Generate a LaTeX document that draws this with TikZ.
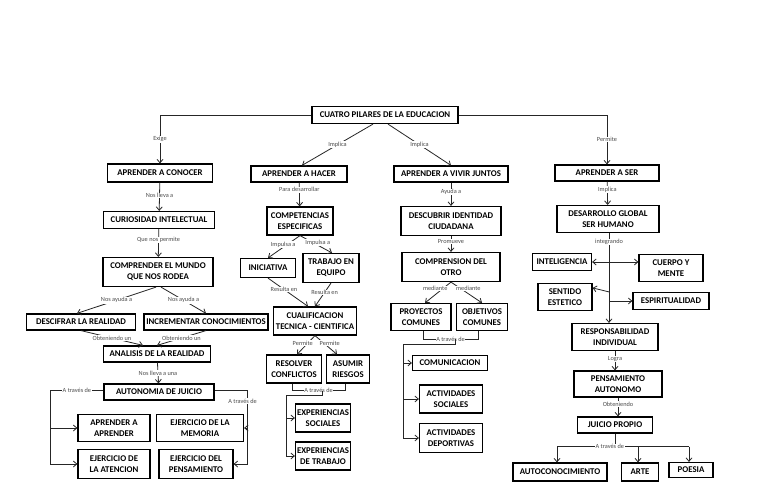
\documentclass[tikz,border=0pt]{standalone}
\usepackage{fontspec}
\setmainfont{Carlito}
\usetikzlibrary{arrows.meta}
\begin{document}
\begin{tikzpicture}[x=1pt,y=-1pt,
        caja/.style={draw, line width=1.2pt, align=center, inner sep=1pt, font=\fontsize{8.8}{11}\selectfont\bfseries},
        etiq/.style={fill=white, inner sep=.6pt, text=black!70, font=\fontsize{6.3}{7}\selectfont},
        linea/.style={line width=.8pt, black!85},
        flecha/.style={linea, -{Straight Barb[length=3.5pt,width=6pt]}}]
        \useasboundingbox[fill=white] (0,0) rectangle (768,503);
        \node[caja, minimum width=146pt, minimum height=17pt] (pilares) at (385,115) {CUATRO PILARES DE LA EDUCACION};
        % aprender a conocer
        \node[caja, minimum width=105pt, minimum height=18pt] (conocer) at (160,173) {APRENDER A CONOCER};
        \node[caja, minimum width=111pt, minimum height=17pt] (curiosidad) at (159,220) {CURIOSIDAD INTELECTUAL};
        \node[caja, minimum width=110pt, minimum height=29pt] (comprender) at (158,272) {COMPRENDER EL MUNDO\\QUE NOS RODEA};
        \node[caja, minimum width=109pt, minimum height=16pt] (descifrar) at (81,322) {DESCIFRAR LA REALIDAD};
        \node[caja, minimum width=124pt, minimum height=16pt] (incrementar) at (206,322) {INCREMENTAR CONOCIMIENTOS};
        \node[caja, minimum width=107pt, minimum height=16pt] (analisis) at (157,354) {ANALISIS DE LA REALIDAD};
        \node[caja, minimum width=110pt, minimum height=16pt] (autonomia) at (159,392) {AUTONOMIA DE JUICIO};
        \node[caja, minimum width=72pt, minimum height=27pt] (aprender) at (114,428) {APRENDER A\\APRENDER};
        \node[caja, minimum width=87pt, minimum height=27pt] (memoria) at (200,428) {EJERCICIO DE LA\\MEMORIA};
        \node[caja, minimum width=72pt, minimum height=29pt] (atencion) at (114,464) {EJERCICIO DE\\LA ATENCION};
        \node[caja, minimum width=74pt, minimum height=29pt] (pensamiento) at (196,464) {EJERCICIO DEL\\PENSAMIENTO};
        % aprender a hacer
        \node[caja, minimum width=96pt, minimum height=16pt] (hacer) at (299,174) {APRENDER A HACER};
        \node[caja, minimum width=66pt, minimum height=28pt] (competencias) at (300,221) {COMPETENCIAS\\ESPECIFICAS};
        \node[caja, minimum width=55pt, minimum height=19pt] (iniciativa) at (268,268) {INICIATIVA};
        \node[caja, minimum width=56pt, minimum height=29pt] (trabajo) at (331,268) {TRABAJO EN\\EQUIPO};
        \node[caja, minimum width=83pt, minimum height=28pt] (cualificacion) at (315,321) {CUALIFICACION\\TECNICA - CIENTIFICA};
        \node[caja, minimum width=55pt, minimum height=28pt] (resolver) at (294,369) {RESOLVER\\CONFLICTOS};
        \node[caja, minimum width=43pt, minimum height=28pt] (asumir) at (348,369) {ASUMIR\\RIESGOS};
        \node[caja, minimum width=55pt, minimum height=28pt] (expsociales) at (323,418) {EXPERIENCIAS\\SOCIALES};
        \node[caja, minimum width=55pt, minimum height=28pt] (exptrabajo) at (323,456) {EXPERIENCIAS\\DE TRABAJO};
        % aprender a vivir juntos
        \node[caja, minimum width=114pt, minimum height=16pt] (vivir) at (451,174) {APRENDER A VIVIR JUNTOS};
        \node[caja, minimum width=100pt, minimum height=29pt] (descubrir) at (451,221) {DESCUBRIR IDENTIDAD\\CIUDADANA};
        \node[caja, minimum width=98pt, minimum height=29pt] (comprension) at (451,267) {COMPRENSION DEL\\OTRO};
        \node[caja, minimum width=60pt, minimum height=27pt] (proyectos) at (421,317) {PROYECTOS\\COMUNES};
        \node[caja, minimum width=51pt, minimum height=27pt] (objetivos) at (482,317) {OBJETIVOS\\COMUNES};
        \node[caja, minimum width=75pt, minimum height=15pt] (comunicacion) at (450,363) {COMUNICACION};
        \node[caja, minimum width=63pt, minimum height=28pt] (actsociales) at (451,399) {ACTIVIDADES\\SOCIALES};
        \node[caja, minimum width=63pt, minimum height=29pt] (actdeportivas) at (451,438) {ACTIVIDADES\\DEPORTIVAS};
        % aprender a ser
        \node[caja, minimum width=104pt, minimum height=16pt] (ser) at (607,173) {APRENDER A SER};
        \node[caja, minimum width=102pt, minimum height=27pt] (desarrollo) at (608,219) {DESARROLLO GLOBAL\\SER HUMANO};
        \node[caja, minimum width=59pt, minimum height=17pt] (inteligencia) at (562,262) {INTELIGENCIA};
        \node[caja, minimum width=64pt, minimum height=27pt] (cuerpo) at (671,268) {CUERPO Y\\MENTE};
        \node[caja, minimum width=54pt, minimum height=27pt] (sentido) at (565,297) {SENTIDO\\ESTETICO};
        \node[caja, minimum width=76pt, minimum height=17pt] (espiritualidad) at (671,301) {ESPIRITUALIDAD};
        \node[caja, minimum width=86pt, minimum height=27pt] (responsabilidad) at (615,337) {RESPONSABILIDAD\\INDIVIDUAL};
        \node[caja, minimum width=88pt, minimum height=26pt] (pensauto) at (618,384) {PENSAMIENTO\\AUTONOMO};
        \node[caja, minimum width=75pt, minimum height=16pt] (juicio) at (615,425) {JUICIO PROPIO};
        \node[caja, minimum width=94pt, minimum height=18pt] (autocon) at (560,472) {AUTOCONOCIMIENTO};
        \node[caja, minimum width=37pt, minimum height=18pt] (arte) at (640,472) {ARTE};
        \node[caja, minimum width=44pt, minimum height=15pt] (poesia) at (691,470) {POESIA};

        \draw[flecha] (pilares.west) -| node[etiq, pos=.75] {Exige} (conocer.north);
        \draw[flecha] (pilares.east) -| node[etiq, pos=.75] {Permite} (ser.north);
        \draw[flecha] ([xshift=-12pt]pilares.south) -- node[etiq] {Implica} ([xshift=3pt]hacer.north);
        \draw[flecha] ([xshift=3pt]pilares.south) -- node[etiq] {Implica} (vivir.north);

        \draw[flecha] (conocer) -- node[etiq, pos=.45] {Nos lleva a} (curiosidad);
        \draw[flecha] (curiosidad) -- node[etiq, pos=.4] {Que nos permite} (comprender);
        \draw[flecha] ([xshift=-2pt]comprender.south) -- node[etiq] {Nos ayuda a} ([xshift=-4pt]descifrar.north);
        \draw[flecha] ([xshift=3pt]comprender.south) -- node[etiq] {Nos ayuda a} (incrementar.north);
        \draw[flecha] (descifrar.south) -- node[etiq] {Obteniendo un} ([xshift=-14pt]analisis.north);
        \draw[flecha] (incrementar.south) -- node[etiq] {Obteniendo un} (analisis.north);
        \draw[flecha] (analisis) -- node[etiq] {Nos lleva a una} (autonomia);
        \draw[linea] ([yshift=2pt]autonomia.west) -- node[etiq] {A través de} ++(-53,0) coordinate (izq);
        \draw[flecha] (izq) |- (atencion.west);
        \draw[flecha] (izq |- aprender.west) -- (aprender.west);
        \draw[linea] ([yshift=2pt]autonomia.east) -- ++(33,0) coordinate (der);
        \draw[flecha] (der) -- node[etiq, pos=.15, xshift=-5pt] {A través de} (der |- pensamiento.east) -- (pensamiento.east);
        \draw[flecha] (der |- memoria.east) -- (memoria.east);

        \draw[flecha] (hacer) -- node[etiq, pos=.3] {Para desarrollar} (competencias);
        \draw[flecha] (competencias.south) -- node[etiq, pos=.4, xshift=-4pt] {Impulsa a} (iniciativa.north);
        \draw[flecha] (competencias.south) -- node[etiq, pos=.4, xshift=5pt] {Impulsa a} ([xshift=1pt]trabajo.north);
        \draw[flecha] (iniciativa.south) -- node[etiq, pos=.4] {Resulta en} ([xshift=-7pt]cualificacion.north);
        \draw[flecha] (trabajo.south) -- node[etiq, pos=.4] {Resulta en} (cualificacion.north);
        \draw[flecha] (cualificacion.south) -- node[etiq, pos=.4, xshift=-5pt] {Permite} ([xshift=3pt]resolver.north);
        \draw[flecha] (cualificacion.south) -- node[etiq, pos=.4, xshift=6pt] {Permite} ([xshift=-11pt]asumir.north);
        \draw[linea] ([xshift=-2pt]resolver.south) -- ++(0,7) coordinate (b1) -| node[etiq, pos=.25] {A través de} ([xshift=-3pt]asumir.south);
        \draw[linea] ([xshift=30pt]b1) -- ++(0,5) -- ++(-36,0) coordinate (b2);
        \draw[flecha] (b2) |- (exptrabajo.west);
        \draw[flecha] (b2 |- expsociales.west) -- (expsociales.west);

        \draw[flecha] (vivir) -- node[etiq, pos=.4] {Ayuda a} (descubrir);
        \draw[flecha] (descubrir) -- node[etiq, pos=.35] {Promueve} (comprension);
        \draw[flecha] (comprension.south) -- node[etiq, pos=.3, xshift=-8pt] {mediante} ([xshift=4pt]proyectos.north);
        \draw[flecha] (comprension.south) -- node[etiq, pos=.3, xshift=8pt] {mediante} (objetivos.north);
        \draw[linea] ([xshift=2pt]proyectos.south) -- ++(0,8) coordinate (b3) -| node[etiq, pos=.25] {A través de} ([xshift=-4pt]objetivos.south);
        \draw[linea] ([xshift=32pt]b3) -- ++(0,5) -- ++(-52,0) coordinate (b4);
        \draw[flecha] (b4) |- (actdeportivas.west);
        \draw[flecha] (b4 |- comunicacion.west) -- (comunicacion.west);
        \draw[flecha] (b4 |- actsociales.west) -- (actsociales.west);

        \draw[flecha] (ser) -- node[etiq, pos=.35] {Implica} (desarrollo);
        \coordinate (eje) at ([xshift=1pt]desarrollo.south);
        \draw[flecha] (eje) -- node[etiq, pos=.1] {integrando} (eje |- responsabilidad.north);
        \draw[flecha] (eje |- inteligencia.east) -- (inteligencia.east);
        \draw[flecha] (eje |- inteligencia.east) -- (cuerpo.west |- inteligencia.east);
        \draw[flecha] (eje |- sentido.north east) ++(0,9) -- ([yshift=-5pt]sentido.north east);
        \draw[flecha] (eje |- espiritualidad.west) -- (espiritualidad.west);
        \draw[flecha] (responsabilidad.south) -- node[etiq, pos=.4] {Logra} (responsabilidad.south |- pensauto.north);
        \draw[flecha] (pensauto.south) -- node[etiq, pos=.35] {Obteniendo} (pensauto.south |- juicio.north);
        \draw[linea] (juicio.south) -- ++(0,13) coordinate (b5);
        \coordinate (b6) at ([xshift=-58pt]b5);
        \coordinate (b7) at ([xshift=74pt]b5);
        \coordinate (b8) at ([xshift=23pt]b5);
        \draw[linea] (b6) -- node[etiq, pos=.4] {A través de} (b7);
        \draw[flecha] (b6) -- (b6 |- autocon.north);
        \draw[flecha] (b8) -- (b8 |- arte.north);
        \draw[flecha] (b7) -- (b7 |- poesia.north);
\end{tikzpicture}
\end{document}
